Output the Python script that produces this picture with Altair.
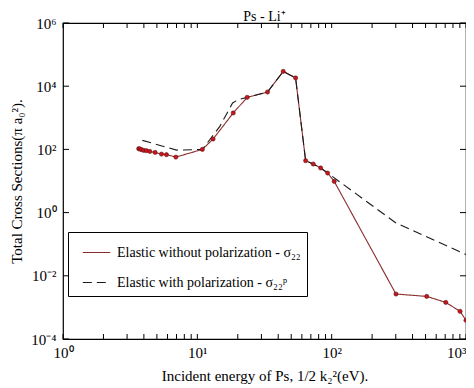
import altair as alt
import pandas as pd

# ---- data ----
solid_energy = [3.66, 3.73, 3.84, 3.99, 4.18, 4.43, 4.85, 5.41, 5.89, 6.92,
                10.9, 13.1, 18.5, 23.5, 33.3, 43.6, 53.9, 64, 72.9, 82.8, 93.3,
                104.5, 301, 510, 707, 903, 1000]
solid_sigma = [105, 103, 98, 93, 91, 86, 80, 71, 68, 57,
               100, 213, 1420, 4430, 6550, 29400, 18200, 43.9, 34.5, 25.8, 17.9,
               9.7, 0.00265, 0.00223, 0.00144, 0.00075, 0.00039]

pol_energy = [3.9, 7.0, 10.9, 14.7, 18.3, 20.1, 23.5, 33.3, 43.6, 53.9,
              64, 72.9, 82.8, 93.3, 301, 1000]
pol_sigma = [193, 95, 100, 535, 2940, 3740, 4430, 6550, 29400, 18200,
             43.9, 34.5, 25.8, 17.9, 0.47, 0.047]

x_major = [1, 10, 100, 1000]
y_major = [1e-4, 1e-2, 1, 1e2, 1e4, 1e6]
x_minor = [1, 2, 3, 4, 5, 6, 7, 8, 9, 10, 20, 30, 40, 50, 60, 70, 80, 90,
           100, 200, 300, 400, 500, 600, 700, 800, 900, 1000]

S1 = "Elastic without polarization - σ₂₂"
S2 = "Elastic with polarization - σ₂₂ᵖ"

df = pd.concat([
    pd.DataFrame({"E": solid_energy, "S": solid_sigma, "series": S1}),
    pd.DataFrame({"E": pol_energy, "S": pol_sigma, "series": S2}),
])
pts = pd.DataFrame({"E": solid_energy, "S": solid_sigma})

W, H = 403, 316
FONT = "Liberation Serif"

xscale = alt.Scale(type="log", domain=[1, 1000])
yscale = alt.Scale(type="log", domain=[1e-4, 1e6])

e = "round(log(datum.value)/LN10)"
sup = (f"'10' + ({e}==-4 ? '⁻⁴' : {e}==-2 ? '⁻²' : {e}==0 ? '⁰' : {e}==1 ? '¹' : "
       f"{e}==2 ? '²' : {e}==3 ? '³' : {e}==4 ? '⁴' : '⁶')")

leg = alt.Legend(title=None, orient="none", legendX=5, legendY=209,
                 symbolType="stroke", symbolSize=750, symbolStrokeWidth=1.2,
                 symbolOffset=8,
                 labelFont=FONT, labelFontSize=14, labelColor="black",
                 padding=6, rowPadding=8, strokeColor="black", fillColor="white",
                 labelLimit=400, labelOffset=6)

xaxis = alt.Axis(values=x_major, labelExpr=sup, ticks=False, grid=False,
                 domain=False, title="Incident energy of Ps, 1/2 k₂²(eV).",
                 labelFont=FONT, labelFontSize=15, labelColor="black",
                 labelAlign={"condition": {"test": "datum.value >= 999", "value": "right"},
                             "value": "center"},
                 titleFont=FONT, titleFontSize=15, titleFontWeight="normal",
                 titleColor="black", labelPadding=6, titlePadding=8,
                 labelFlush=False)
yaxis = alt.Axis(values=y_major, labelExpr=sup, ticks=False, grid=False,
                 domain=False, title="Total Cross Sections(π a₀²).",
                 labelFont=FONT, labelFontSize=15, labelColor="black",
                 titleFont=FONT, titleFontSize=15, titleFontWeight="normal",
                 titleColor="black", labelPadding=7, titlePadding=6,
                 labelFlush=False)

lines = alt.Chart(df).mark_line(strokeWidth=1.1, clip=True).encode(
    x=alt.X("E:Q", scale=xscale, axis=xaxis),
    y=alt.Y("S:Q", scale=yscale, axis=yaxis),
    color=alt.Color("series:N", scale=alt.Scale(domain=[S1, S2], range=["#8b2c2c", "#1a1a1a"]),
                    legend=leg),
    strokeDash=alt.StrokeDash("series:N", scale=alt.Scale(domain=[S1, S2], range=[[1, 0], [9, 5]]),
                              legend=leg),
)

points = alt.Chart(pts).mark_circle(size=18, color="#c8161d", opacity=1,
                                    stroke="#4a0a0a", strokeWidth=0.5).encode(
    x=alt.X("E:Q", scale=xscale, axis=xaxis),
    y=alt.Y("S:Q", scale=yscale, axis=yaxis),
)

xt = pd.DataFrame({"E": x_minor})
yt = pd.DataFrame({"S": y_major})
tick_bottom = alt.Chart(xt).mark_rule(color="black", strokeWidth=1).encode(
    x=alt.X("E:Q", scale=xscale, axis=xaxis), y=alt.value(H), y2=alt.value(H - 5))
tick_top = alt.Chart(xt).mark_rule(color="black", strokeWidth=1).encode(
    x=alt.X("E:Q", scale=xscale, axis=xaxis), y=alt.value(0), y2=alt.value(5))
tick_left = alt.Chart(yt).mark_rule(color="black", strokeWidth=1).encode(
    y=alt.Y("S:Q", scale=yscale, axis=yaxis), x=alt.value(0), x2=alt.value(6))
tick_right = alt.Chart(yt).mark_rule(color="black", strokeWidth=1).encode(
    y=alt.Y("S:Q", scale=yscale, axis=yaxis), x=alt.value(W), x2=alt.value(W - 6))

chart = alt.layer(lines, points, tick_bottom, tick_top, tick_left, tick_right).properties(
    width=W, height=H, background="white",
    title=alt.TitleParams("Ps - Li⁺", font=FONT, fontSize=14, fontWeight="normal",
                          color="black", offset=-8, frame="group"),
    autosize=alt.AutoSizeParams(type="none"),
    padding={"left": 55, "top": 15, "right": 0, "bottom": 49},
).configure_view(stroke="black", strokeWidth=1.2)

chart.save("out.html", embed_options={"renderer": "svg", "actions": False})
